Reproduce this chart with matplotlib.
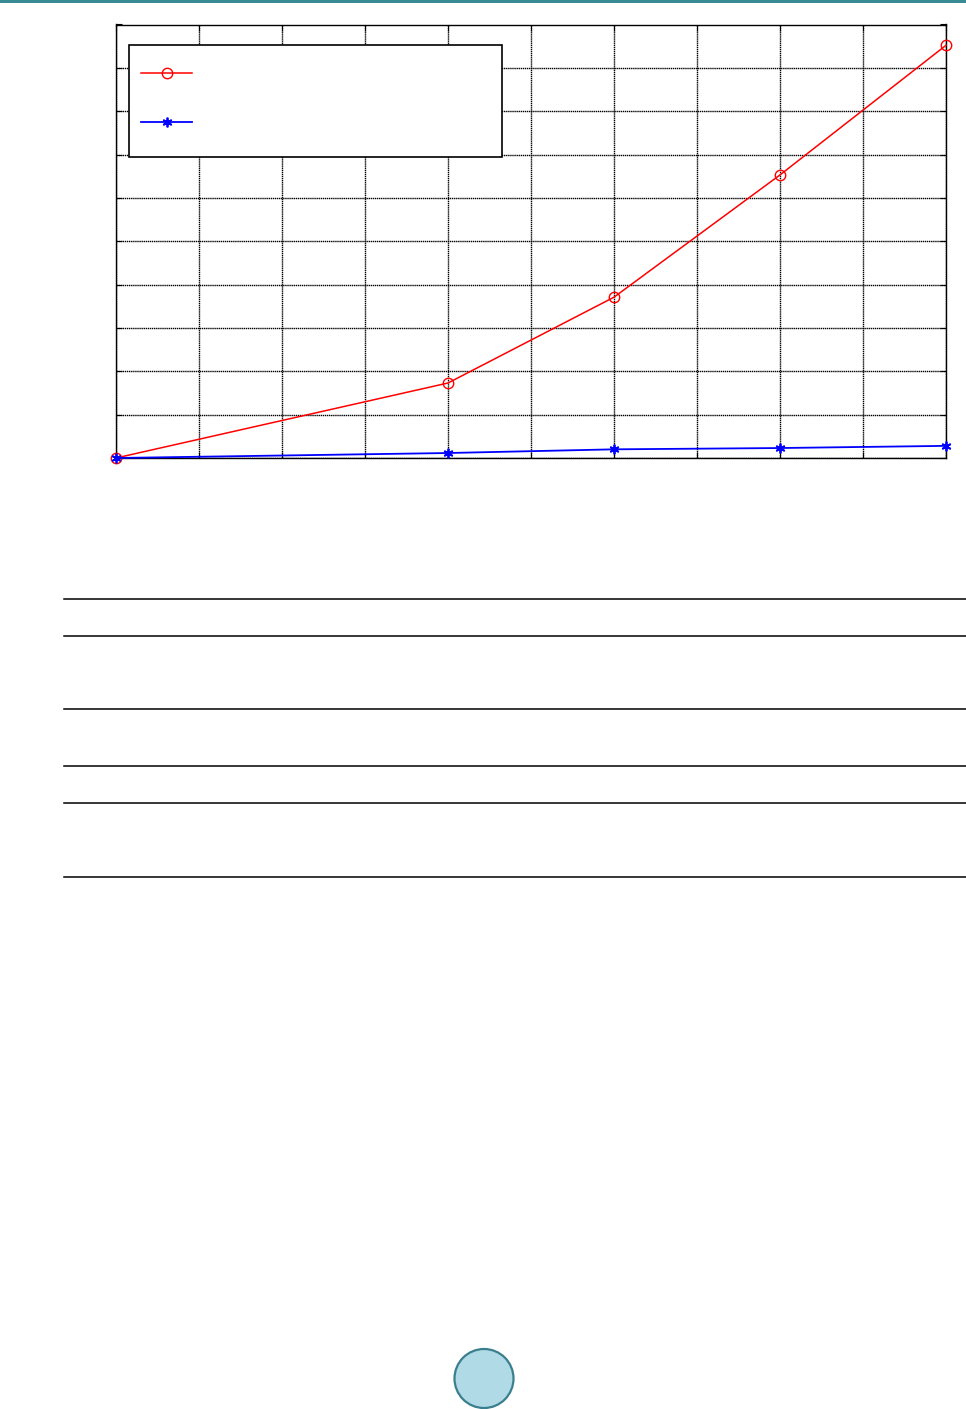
import matplotlib

matplotlib.use('Agg')
import matplotlib.pyplot as plt
from matplotlib.lines import Line2D
from matplotlib.patches import Rectangle, Circle

# Datos (sin etiquetas visibles)
x_vals = [0, 4, 6, 8, 10]
red_vals = [0, 1.73, 3.71, 6.53, 9.52]
blue_vals = [0, 0.115, 0.20, 0.23, 0.28]
x_ticks = list(range(0, 11))
y_ticks = list(range(0, 11))

W, H = 966, 1409
fig = plt.figure(figsize=(W / 100, H / 100), dpi=100)
fig.patch.set_facecolor('white')

# Barra superior de la pagina
fig.add_artist(Rectangle((0, 1 - 3 / H), 1, 3 / H, transform=fig.transFigure,
                         facecolor='#3a8a94', edgecolor='none'))

# Ejes del grafico (en pixeles de la pagina)
left, right, top, bottom = 116, 946, 24.5, 458
ax = fig.add_axes([left / W, 1 - bottom / H, (right - left) / W, (bottom - top) / H])

ax.plot(x_vals, red_vals, color='#ff0000', linewidth=1.1, marker='o',
        markersize=7.5, markerfacecolor='none', markeredgecolor='#ff0000',
        markeredgewidth=1.0, clip_on=False, zorder=3)
ax.plot(x_vals, blue_vals, color='#0000ff', linewidth=1.3, marker=(6, 2, 0),
        markersize=7, markeredgecolor='#0000ff', markeredgewidth=1.3,
        clip_on=False, zorder=4)

ax.set_xlim(0, 10)
ax.set_ylim(0, 10)
ax.set_xticks(x_ticks)
ax.set_yticks(y_ticks)
ax.set_xticklabels([])
ax.set_yticklabels([])
ax.tick_params(direction='in', length=4, width=0.8, top=True, right=True)
ax.grid(True, color='black', linestyle=(0, (1, 0.5)), linewidth=1.0)
ax.set_axisbelow(True)
for sp in ax.spines.values():
    sp.set_color('black')
    sp.set_linewidth(1.0)

# Leyenda sin texto (el texto fue eliminado en la imagen original)
handles = [
    Line2D([], [], color='#ff0000', lw=1.1, marker='o', markersize=7.5,
           markerfacecolor='none', markeredgecolor='#ff0000'),
    Line2D([], [], color='#0000ff', lw=1.3, marker=(6, 2, 0), markersize=7,
           markeredgecolor='#0000ff', markeredgewidth=1.3),
]
x0 = (129 - left) / (right - left)
x1 = (502 - left) / (right - left)
y_top = (bottom - 45) / (bottom - top)
leg = ax.legend(handles, [' ', ' '], loc='upper left',
                bbox_to_anchor=(x0, 0, x1 - x0, y_top), mode='expand',
                borderaxespad=0, fontsize=28.4, borderpad=0.31,
                labelspacing=0.28, handlelength=1.29, handletextpad=0.3,
                fancybox=False, framealpha=1, edgecolor='black')
leg.get_frame().set_linewidth(1.2)

# Lineas de la tabla debajo del grafico
table_rows = [599, 636, 709, 766, 803, 877]
for y in table_rows:
    fig.add_artist(Line2D([64 / W, 1], [1 - y / H, 1 - y / H],
                          transform=fig.transFigure, color='black', lw=1.1))

# Circulo del numero de pagina (en pulgadas para que sea redondo)
fig.add_artist(Circle((4.84, (H - 1378.5) / 100), 0.295,
                      transform=fig.dpi_scale_trans, facecolor='#b0dbe6',
                      edgecolor='#3a7f8f', lw=1.6))

plt.savefig('out.png', dpi=100)
plt.close(fig)
